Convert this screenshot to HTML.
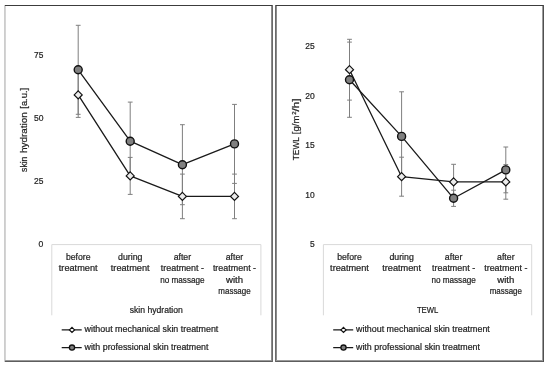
<!DOCTYPE html>
<html lang="en">
<head>
<meta charset="utf-8">
<title>skin hydration and TEWL</title>
<style>
html,body{margin:0;padding:0;background:#fff;}
body{width:550px;height:367px;overflow:hidden;}
svg text{white-space:pre;}
</style>
</head>
<body>
<svg width="550" height="367" viewBox="0 0 550 367" style="display:block">
<rect width="550" height="367" fill="#fff"/>
<g shape-rendering="crispEdges"><rect x="4" y="5" width="269" height="1" fill="#3c3c3c"/><rect x="4" y="360" width="269" height="1" fill="#999"/><rect x="4" y="361" width="269" height="1" fill="#5e5e5e"/><rect x="4" y="5" width="1" height="357" fill="#cdcdcd"/><rect x="5" y="6" width="1" height="354" fill="#d4d4d4"/><rect x="271" y="6" width="1" height="355" fill="#8c8c8c"/><rect x="272" y="5" width="1" height="357" fill="#6a6a6a"/><rect x="275" y="5" width="269" height="1" fill="#3c3c3c"/><rect x="275" y="360" width="269" height="1" fill="#999"/><rect x="275" y="361" width="269" height="1" fill="#5e5e5e"/><rect x="275" y="5" width="1" height="357" fill="#6a6a6a"/><rect x="276" y="6" width="1" height="354" fill="#8c8c8c"/><rect x="542" y="6" width="1" height="355" fill="#9c9c9c"/><rect x="543" y="5" width="1" height="357" fill="#505050"/></g>
<g font-family='"Liberation Sans", sans-serif' font-size="8.7" fill="#1f1f1f" stroke="#1f1f1f" stroke-width="0.22">
<path d="M51.8 315.3V244.6H260.9V315.3" fill="none" stroke="#d9d9d9" stroke-width="1"/>
<g fill="none" stroke="#7f7f7f" stroke-width="1">
<path d="M78.2 72.4V117.4M75.8 72.4H80.6M75.8 117.4H80.6"/>
<path d="M130.2 157.4V194.4M127.8 157.4H132.6M127.8 194.4H132.6"/>
<path d="M182.4 174.1V218.7M180.0 174.1H184.8M180.0 218.7H184.8"/>
<path d="M234.5 174.1V218.7M232.1 174.1H236.9M232.1 218.7H236.9"/>
<path d="M78.2 25.3V114.3M75.8 25.3H80.6M75.8 114.3H80.6"/>
<path d="M130.2 102.1V177.2M127.8 102.1H132.6M127.8 177.2H132.6"/>
<path d="M182.4 124.7V204.7M180.0 124.7H184.8M180.0 204.7H184.8"/>
<path d="M234.5 104.4V183.4M232.1 104.4H236.9M232.1 183.4H236.9"/>
</g>
<polyline fill="none" stroke="#1a1a1a" stroke-width="1.3" stroke-linejoin="round" points="78.2,94.9 130.2,175.9 182.4,196.4 234.5,196.4"/>
<path d="M78.2 90.9L82.2 94.9L78.2 98.9L74.2 94.9Z" fill="#ececec" stroke="#111" stroke-width="1.2" stroke-linejoin="miter"/>
<path d="M130.2 171.9L134.2 175.9L130.2 179.9L126.2 175.9Z" fill="#ececec" stroke="#111" stroke-width="1.2" stroke-linejoin="miter"/>
<path d="M182.4 192.4L186.4 196.4L182.4 200.4L178.4 196.4Z" fill="#ececec" stroke="#111" stroke-width="1.2" stroke-linejoin="miter"/>
<path d="M234.5 192.4L238.5 196.4L234.5 200.4L230.5 196.4Z" fill="#ececec" stroke="#111" stroke-width="1.2" stroke-linejoin="miter"/>
<polyline fill="none" stroke="#1a1a1a" stroke-width="1.3" stroke-linejoin="round" points="78.2,69.8 130.2,141.2 182.4,164.7 234.5,143.9"/>
<circle cx="78.2" cy="69.8" r="4.0" fill="#808080" stroke="#111" stroke-width="1.4"/>
<circle cx="130.2" cy="141.2" r="4.0" fill="#808080" stroke="#111" stroke-width="1.4"/>
<circle cx="182.4" cy="164.7" r="4.0" fill="#808080" stroke="#111" stroke-width="1.4"/>
<circle cx="234.5" cy="143.9" r="4.0" fill="#808080" stroke="#111" stroke-width="1.4"/>
<text x="43.4" y="247.2" text-anchor="end" textLength="4.8" lengthAdjust="spacingAndGlyphs" font-size="9.1">0</text>
<text x="43.4" y="184.0" text-anchor="end" textLength="9.4" lengthAdjust="spacingAndGlyphs" font-size="9.1">25</text>
<text x="43.4" y="120.8" text-anchor="end" textLength="9.5" lengthAdjust="spacingAndGlyphs" font-size="9.1">50</text>
<text x="43.4" y="57.7" text-anchor="end" textLength="9.3" lengthAdjust="spacingAndGlyphs" font-size="9.1">75</text>
<text transform="translate(27.3 171.9) rotate(-90)" font-size="9.9"><tspan x="0" textLength="15.3" lengthAdjust="spacingAndGlyphs">skin</tspan> <tspan x="18.8" textLength="40.9" lengthAdjust="spacingAndGlyphs">hydration</tspan> <tspan x="63.2" textLength="20.9" lengthAdjust="spacingAndGlyphs">[a.u.]</tspan></text>
<text x="78.2" y="259.8" text-anchor="middle" textLength="24.6" lengthAdjust="spacingAndGlyphs">before</text>
<text x="78.2" y="271.1" text-anchor="middle" textLength="38.8" lengthAdjust="spacingAndGlyphs">treatment</text>
<text x="130.2" y="259.8" text-anchor="middle" textLength="24.4" lengthAdjust="spacingAndGlyphs">during</text>
<text x="130.2" y="271.1" text-anchor="middle" textLength="38.8" lengthAdjust="spacingAndGlyphs">treatment</text>
<text x="182.4" y="259.8" text-anchor="middle" textLength="17.5" lengthAdjust="spacingAndGlyphs">after</text>
<text x="182.4" y="271.1" text-anchor="middle" textLength="43.2" lengthAdjust="spacingAndGlyphs">treatment -</text>
<text x="182.4" y="282.5" text-anchor="middle" textLength="44.4" lengthAdjust="spacingAndGlyphs">no massage</text>
<text x="234.5" y="259.8" text-anchor="middle" textLength="17.5" lengthAdjust="spacingAndGlyphs">after</text>
<text x="234.5" y="271.1" text-anchor="middle" textLength="43.2" lengthAdjust="spacingAndGlyphs">treatment -</text>
<text x="234.5" y="282.5" text-anchor="middle" textLength="17.0" lengthAdjust="spacingAndGlyphs">with</text>
<text x="234.5" y="293.8" text-anchor="middle" textLength="32.3" lengthAdjust="spacingAndGlyphs">massage</text>
<text x="156.3" y="312.6" text-anchor="middle" textLength="53.2" lengthAdjust="spacingAndGlyphs">skin hydration</text>
<path d="M61.7 329.9H81.7M61.7 347.6H81.7" stroke="#1a1a1a" stroke-width="1.3" fill="none"/>
<path d="M72.0 327.3L74.6 329.9L72.0 332.5L69.4 329.9Z" fill="#fff" stroke="#111" stroke-width="1.2" stroke-linejoin="miter"/>
<circle cx="72.0" cy="347.6" r="2.6" fill="#808080" stroke="#111" stroke-width="1.3"/>
<text x="84.5" y="332.4" text-anchor="start" textLength="133.8" lengthAdjust="spacingAndGlyphs">without mechanical skin treatment</text>
<text x="84.5" y="350.1" text-anchor="start" textLength="124.0" lengthAdjust="spacingAndGlyphs">with professional skin treatment</text>
<path d="M323.4 315.3V244.6H531.7V315.3" fill="none" stroke="#d9d9d9" stroke-width="1"/>
<g fill="none" stroke="#7f7f7f" stroke-width="1">
<path d="M349.5 39.3V100.1M347.1 39.3H351.9M347.1 100.1H351.9"/>
<path d="M401.6 157.2V196.2M399.2 157.2H404.0M399.2 196.2H404.0"/>
<path d="M453.6 164.3V199.5M451.2 164.3H456.0M451.2 199.5H456.0"/>
<path d="M505.8 164.6V199.2M503.4 164.6H508.2M503.4 199.2H508.2"/>
<path d="M349.5 42.1V117.3M347.1 42.1H351.9M347.1 117.3H351.9"/>
<path d="M401.6 91.8V177.9M399.2 91.8H404.0M399.2 177.9H404.0"/>
<path d="M453.6 190.2V206.4M451.2 190.2H456.0M451.2 206.4H456.0"/>
<path d="M505.8 147.0V192.8M503.4 147.0H508.2M503.4 192.8H508.2"/>
</g>
<polyline fill="none" stroke="#1a1a1a" stroke-width="1.3" stroke-linejoin="round" points="349.5,69.7 401.6,176.7 453.6,181.9 505.8,181.9"/>
<path d="M349.5 65.7L353.5 69.7L349.5 73.7L345.5 69.7Z" fill="#ececec" stroke="#111" stroke-width="1.2" stroke-linejoin="miter"/>
<path d="M401.6 172.7L405.6 176.7L401.6 180.7L397.6 176.7Z" fill="#ececec" stroke="#111" stroke-width="1.2" stroke-linejoin="miter"/>
<path d="M453.6 177.9L457.6 181.9L453.6 185.9L449.6 181.9Z" fill="#ececec" stroke="#111" stroke-width="1.2" stroke-linejoin="miter"/>
<path d="M505.8 177.9L509.8 181.9L505.8 185.9L501.8 181.9Z" fill="#ececec" stroke="#111" stroke-width="1.2" stroke-linejoin="miter"/>
<polyline fill="none" stroke="#1a1a1a" stroke-width="1.3" stroke-linejoin="round" points="349.5,79.7 401.6,136.4 453.6,198.3 505.8,169.9"/>
<circle cx="349.5" cy="79.7" r="4.0" fill="#808080" stroke="#111" stroke-width="1.4"/>
<circle cx="401.6" cy="136.4" r="4.0" fill="#808080" stroke="#111" stroke-width="1.4"/>
<circle cx="453.6" cy="198.3" r="4.0" fill="#808080" stroke="#111" stroke-width="1.4"/>
<circle cx="505.8" cy="169.9" r="4.0" fill="#808080" stroke="#111" stroke-width="1.4"/>
<text x="314.7" y="247.2" text-anchor="end" textLength="4.7" lengthAdjust="spacingAndGlyphs" font-size="9.1">5</text>
<text x="314.7" y="197.7" text-anchor="end" textLength="9.4" lengthAdjust="spacingAndGlyphs" font-size="9.1">10</text>
<text x="314.7" y="148.2" text-anchor="end" textLength="9.4" lengthAdjust="spacingAndGlyphs" font-size="9.1">15</text>
<text x="314.7" y="98.6" text-anchor="end" textLength="9.5" lengthAdjust="spacingAndGlyphs" font-size="9.1">20</text>
<text x="314.7" y="49.1" text-anchor="end" textLength="9.4" lengthAdjust="spacingAndGlyphs" font-size="9.1">25</text>
<text transform="translate(299.4 160.2) rotate(-90)" font-size="9.9"><tspan x="0" textLength="22.7" lengthAdjust="spacingAndGlyphs">TEWL</tspan> <tspan x="26.0" textLength="18.6" lengthAdjust="spacingAndGlyphs">[g/m</tspan><tspan x="45.4" dy="-3.6" font-size="6.2">2</tspan><tspan x="48.7" dy="3.6" textLength="13.1" lengthAdjust="spacingAndGlyphs">/h]</tspan></text>
<text x="349.5" y="259.8" text-anchor="middle" textLength="24.6" lengthAdjust="spacingAndGlyphs">before</text>
<text x="349.5" y="271.1" text-anchor="middle" textLength="38.8" lengthAdjust="spacingAndGlyphs">treatment</text>
<text x="401.6" y="259.8" text-anchor="middle" textLength="24.4" lengthAdjust="spacingAndGlyphs">during</text>
<text x="401.6" y="271.1" text-anchor="middle" textLength="38.8" lengthAdjust="spacingAndGlyphs">treatment</text>
<text x="453.6" y="259.8" text-anchor="middle" textLength="17.5" lengthAdjust="spacingAndGlyphs">after</text>
<text x="453.6" y="271.1" text-anchor="middle" textLength="43.2" lengthAdjust="spacingAndGlyphs">treatment -</text>
<text x="453.6" y="282.5" text-anchor="middle" textLength="44.4" lengthAdjust="spacingAndGlyphs">no massage</text>
<text x="505.8" y="259.8" text-anchor="middle" textLength="17.5" lengthAdjust="spacingAndGlyphs">after</text>
<text x="505.8" y="271.1" text-anchor="middle" textLength="43.2" lengthAdjust="spacingAndGlyphs">treatment -</text>
<text x="505.8" y="282.5" text-anchor="middle" textLength="17.0" lengthAdjust="spacingAndGlyphs">with</text>
<text x="505.8" y="293.8" text-anchor="middle" textLength="32.3" lengthAdjust="spacingAndGlyphs">massage</text>
<text x="427.6" y="312.6" text-anchor="middle" textLength="21.4" lengthAdjust="spacingAndGlyphs">TEWL</text>
<path d="M333.2 329.9H353.2M333.2 347.6H353.2" stroke="#1a1a1a" stroke-width="1.3" fill="none"/>
<path d="M343.5 327.3L346.1 329.9L343.5 332.5L340.9 329.9Z" fill="#fff" stroke="#111" stroke-width="1.2" stroke-linejoin="miter"/>
<circle cx="343.5" cy="347.6" r="2.6" fill="#808080" stroke="#111" stroke-width="1.3"/>
<text x="356.0" y="332.4" text-anchor="start" textLength="133.8" lengthAdjust="spacingAndGlyphs">without mechanical skin treatment</text>
<text x="356.0" y="350.1" text-anchor="start" textLength="124.0" lengthAdjust="spacingAndGlyphs">with professional skin treatment</text>
</g>
</svg>
</body>
</html>
